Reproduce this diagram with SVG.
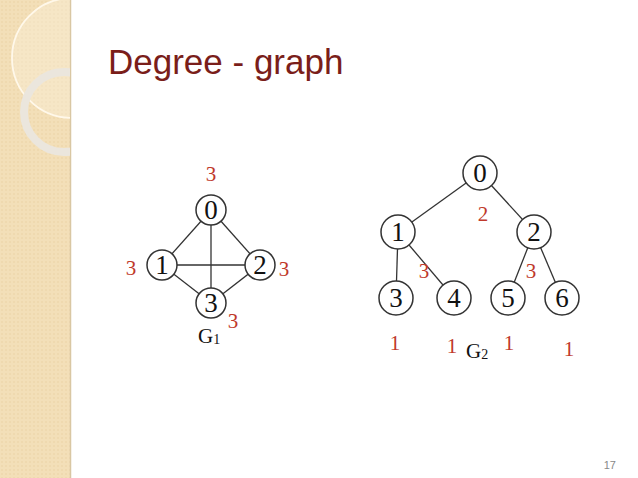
<svg xmlns="http://www.w3.org/2000/svg" width="638" height="478" viewBox="0 0 638 478">
<style>
.n circle{fill:#fff;stroke:#333;stroke-width:1.5}
.n text{font-family:"Liberation Serif",serif;font-size:27px;fill:#111;text-anchor:middle}
.d{font-family:"Liberation Serif",serif;font-size:21px;fill:#c0392b;text-anchor:middle}
.g{font-family:"Liberation Serif",serif;font-size:21px;fill:#111}
#edges line{stroke:#333;stroke-width:1.3}
</style>
<defs>
<pattern id="dots" width="4" height="4" patternUnits="userSpaceOnUse"><rect width="4" height="4" fill="#f3dfb8"/><circle cx="2" cy="2" r="0.8" fill="#ead3a5"/></pattern>
<clipPath id="strip"><rect width="70" height="478"/></clipPath>
</defs>
<rect width="638" height="478" fill="#fff"/>
<rect width="70" height="478" fill="url(#dots)"/>
<line x1="70.5" y1="0" x2="70.5" y2="478" stroke="#d9c7a3" stroke-width="1.5"/>
<g clip-path="url(#strip)">
<circle cx="72" cy="58" r="60" fill="#fbf0dc" fill-opacity="0.4" stroke="#fff8ea" stroke-width="1.8"/>
<circle cx="64" cy="112" r="40" fill="none" stroke="#ebe6dd" stroke-width="8"/>
</g>
<text x="108" y="74" font-family="Liberation Sans,sans-serif" font-size="35" fill="#7a1e1a">Degree - graph</text>
<g id="edges">
<line x1="211" y1="210" x2="162" y2="265"/><line x1="211" y1="210" x2="260" y2="265"/><line x1="211" y1="210" x2="211" y2="303"/>
<line x1="162" y1="265" x2="260" y2="265"/><line x1="162" y1="265" x2="211" y2="303"/><line x1="260" y1="265" x2="211" y2="303"/>
<line x1="480" y1="173" x2="398" y2="232"/><line x1="480" y1="173" x2="534" y2="232"/>
<line x1="398" y1="232" x2="396" y2="298"/><line x1="398" y1="232" x2="454" y2="298"/>
<line x1="534" y1="232" x2="508" y2="298"/><line x1="534" y1="232" x2="562" y2="298"/>
</g>
<g id="g1-0" class="n"><circle cx="211" cy="210" r="15"/><text x="211" y="219">0</text></g>
<g id="g1-1" class="n"><circle cx="162" cy="265" r="15"/><text x="162" y="274">1</text></g>
<g id="g1-2" class="n"><circle cx="260" cy="265" r="15"/><text x="260" y="274">2</text></g>
<g id="g1-3" class="n"><circle cx="211" cy="303" r="15"/><text x="211" y="312">3</text></g>
<g id="g2-0" class="n"><circle cx="480" cy="173" r="17"/><text x="480" y="182">0</text></g>
<g id="g2-1" class="n"><circle cx="398" cy="232" r="17"/><text x="398" y="241">1</text></g>
<g id="g2-2" class="n"><circle cx="534" cy="232" r="17"/><text x="534" y="241">2</text></g>
<g id="g2-3" class="n"><circle cx="396" cy="298" r="17"/><text x="396" y="307">3</text></g>
<g id="g2-4" class="n"><circle cx="454" cy="298" r="17"/><text x="454" y="307">4</text></g>
<g id="g2-5" class="n"><circle cx="508" cy="298" r="17"/><text x="508" y="307">5</text></g>
<g id="g2-6" class="n"><circle cx="562" cy="298" r="17"/><text x="562" y="307">6</text></g>
<g id="labels">
<text class="d" x="211" y="181">3</text><text class="d" x="131" y="275">3</text><text class="d" x="284" y="276">3</text><text class="d" x="233" y="328">3</text>
<text class="d" x="483" y="221">2</text><text class="d" x="424" y="278">3</text><text class="d" x="531" y="278">3</text>
<text class="d" x="395" y="350">1</text><text class="d" x="452" y="353">1</text><text class="d" x="509" y="350">1</text><text class="d" x="569" y="356">1</text>
<text class="g" x="198" y="343">G<tspan font-size="14" dy="1">1</tspan></text>
<text class="g" x="466" y="358">G<tspan font-size="14" dy="1">2</tspan></text>
<text x="616" y="469" font-family="Liberation Sans,sans-serif" font-size="11" fill="#888" text-anchor="end">17</text>
</g>
</svg>
